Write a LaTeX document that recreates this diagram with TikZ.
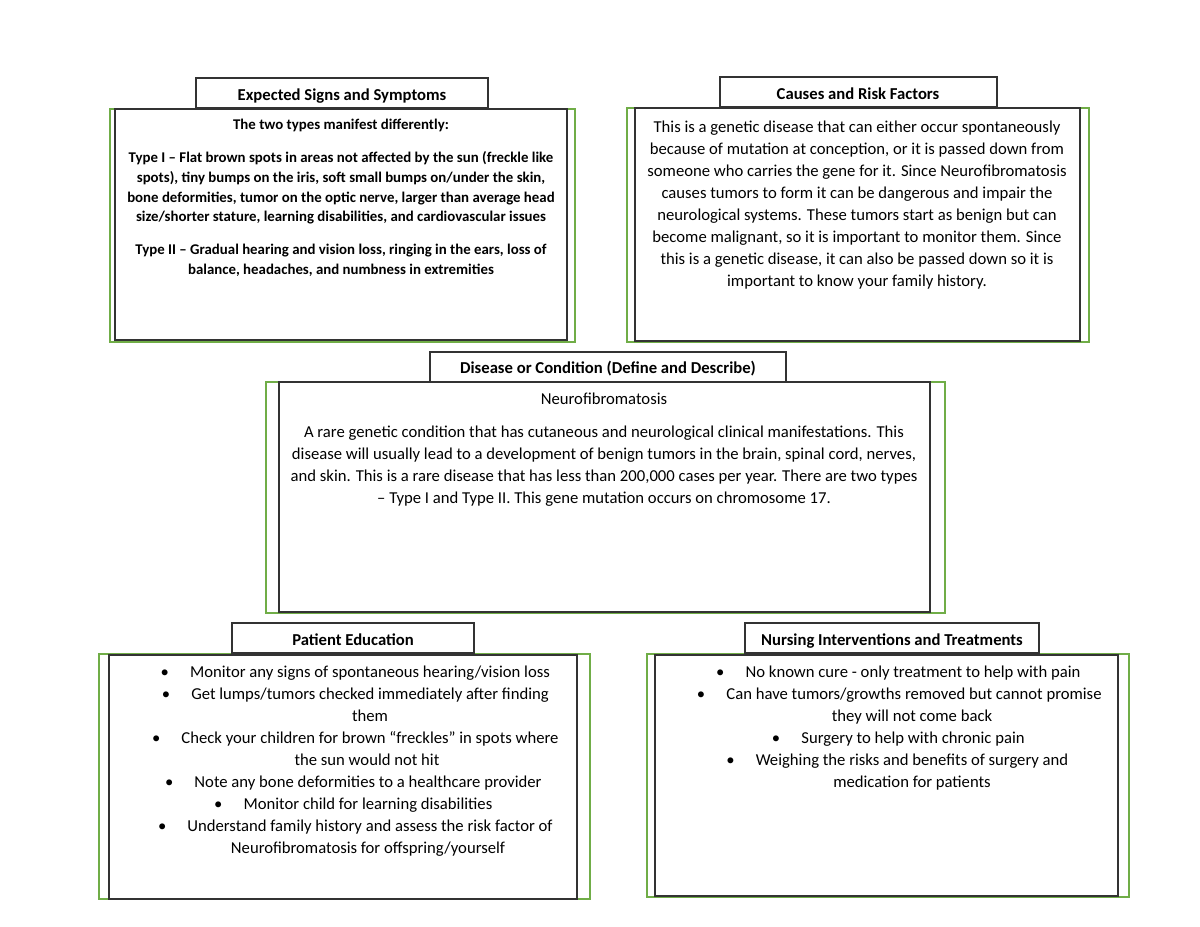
\documentclass[tikz,border=0pt]{standalone}
\usepackage{fontspec}
\setmainfont{Carlito}
\usetikzlibrary{calc}
\definecolor{grn}{HTML}{70AD47}
\definecolor{dk}{HTML}{333333}
\tikzset{
  outer/.style={draw=grn, line width=1.4pt},
  inner/.style={draw=dk, line width=0.9pt},
  ttlbox/.style={draw=dk, line width=0.9pt, fill=white},
  ttl/.style={font=\bfseries\fontsize{11}{13}\selectfont, inner sep=0, anchor=base},
  body/.style={align=center, font=\fontsize{11}{14.45}\selectfont, inner sep=0, anchor=north},
  bodyb/.style={align=center, font=\bfseries\fontsize{9.8}{13}\selectfont, inner sep=0, anchor=north},
  ln/.style={font=\fontsize{11}{13}\selectfont, inner sep=0, anchor=base},
  bul/.style={font=\fontsize{11}{13}\selectfont, inner sep=0, anchor=base},
}
\begin{document}
\begin{tikzpicture}[x=0.66pt,y=-0.66pt]
\useasboundingbox (0,0) rectangle (1200,927);
\fill[white] (0,0) rectangle (1200,927);

% ---- Box 1: Expected Signs and Symptoms
\draw[outer] (110,109) rectangle (575,342);
\draw[inner] (115,109) rectangle (567,340);
\draw[ttlbox] (196,78) rectangle (488,108);
\node[ttl] (t1) at (342,100) {Expected Signs and Symptoms};
\node[bodyb] (b1) at (341,119) {The two types manifest differently:\\[8.8pt]
Type I – Flat brown spots in areas not affected by the sun (freckle like\\
spots), tiny bumps on the iris, soft small bumps on/under the skin,\\
bone deformities, tumor on the optic nerve, larger than average head\\
size/shorter stature, learning disabilities, and cardiovascular issues\\[8.8pt]
Type II – Gradual hearing and vision loss, ringing in the ears, loss of\\
balance, headaches, and numbness in extremities};

% ---- Box 2: Causes and Risk Factors
\draw[outer] (627,108) rectangle (1089,342);
\draw[inner] (635,108) rectangle (1080,341);
\draw[ttlbox] (720,77) rectangle (997,107);
\node[ttl] (t2) at (858,99) {Causes and Risk Factors};
\node[body] (b2) at (857,121) {This is a genetic disease that can either occur spontaneously\\
because of mutation at conception, or it is passed down from\\
someone who carries the gene for it. Since Neurofibromatosis\\
causes tumors to form it can be dangerous and impair the\\
neurological systems. These tumors start as benign but can\\
become malignant, so it is important to monitor them. Since\\
this is a genetic disease, it can also be passed down so it is\\
important to know your family history.};

% ---- Box 3: Disease or Condition
\draw[outer] (266,382) rectangle (945,613);
\draw[inner] (279,382) rectangle (930,612);
\draw[ttlbox] (430,352) rectangle (786,382);
\node[ttl] (t3) at (608,373) {Disease or Condition (Define and Describe)};
\node[body] (b3) at (604,393) {Neurofibromatosis\\[7.2pt]
A rare genetic condition that has cutaneous and neurological clinical manifestations. This\\
disease will usually lead to a development of benign tumors in the brain, spinal cord, nerves,\\
and skin. This is a rare disease that has less than 200,000 cases per year. There are two types\\
– Type I and Type II. This gene mutation occurs on chromosome 17.};

% ---- Box 4: Patient Education
\draw[outer] (99,654) rectangle (590,899);
\draw[inner] (109,655) rectangle (577,899);
\draw[ttlbox] (232,623) rectangle (474,653);
\node[ttl] (t4) at (353,645) {Patient Education};
\node[ln] (p1) at (370,677) {Monitor any signs of spontaneous hearing/vision loss};
\node[ln] (p2) at (370,699) {Get lumps/tumors checked immediately after finding};
\node[ln] (p3) at (370,721) {them};
\node[ln] (p4) at (370,743) {Check your children for brown “freckles” in spots where};
\node[ln] (p5) at (367,765) {the sun would not hit};
\node[ln] (p6) at (368,787) {Note any bone deformities to a healthcare provider};
\node[ln] (p7) at (368,809) {Monitor child for learning disabilities};
\node[ln] (p8) at (370,831) {Understand family history and assess the risk factor of};
\node[ln] (p9) at (368,853) {Neurofibromatosis for offspring/yourself};
\foreach \n in {p1,p2,p4,p6,p7,p8}
  \node[bul] (bu\n) at ($(\n.base west)+(-25,0)$) {•};

% ---- Box 5: Nursing Interventions and Treatments
\draw[outer] (647,654) rectangle (1129,897);
\draw[inner] (655,655) rectangle (1118,896);
\draw[ttlbox] (745,623) rectangle (1039,653);
\node[ttl] (t5) at (892,645) {Nursing Interventions and Treatments};
\node[ln] (n1) at (913,677) {No known cure - only treatment to help with pain};
\node[ln] (n2) at (914,699) {Can have tumors/growths removed but cannot promise};
\node[ln] (n3) at (912,721) {they will not come back};
\node[ln] (n4) at (913,743) {Surgery to help with chronic pain};
\node[ln] (n5) at (912,765) {Weighing the risks and benefits of surgery and};
\node[ln] (n6) at (912,787) {medication for patients};
\foreach \n in {n1,n2,n4,n5}
  \node[bul] (bu\n) at ($(\n.base west)+(-25,0)$) {•};
\end{tikzpicture}
\end{document}
